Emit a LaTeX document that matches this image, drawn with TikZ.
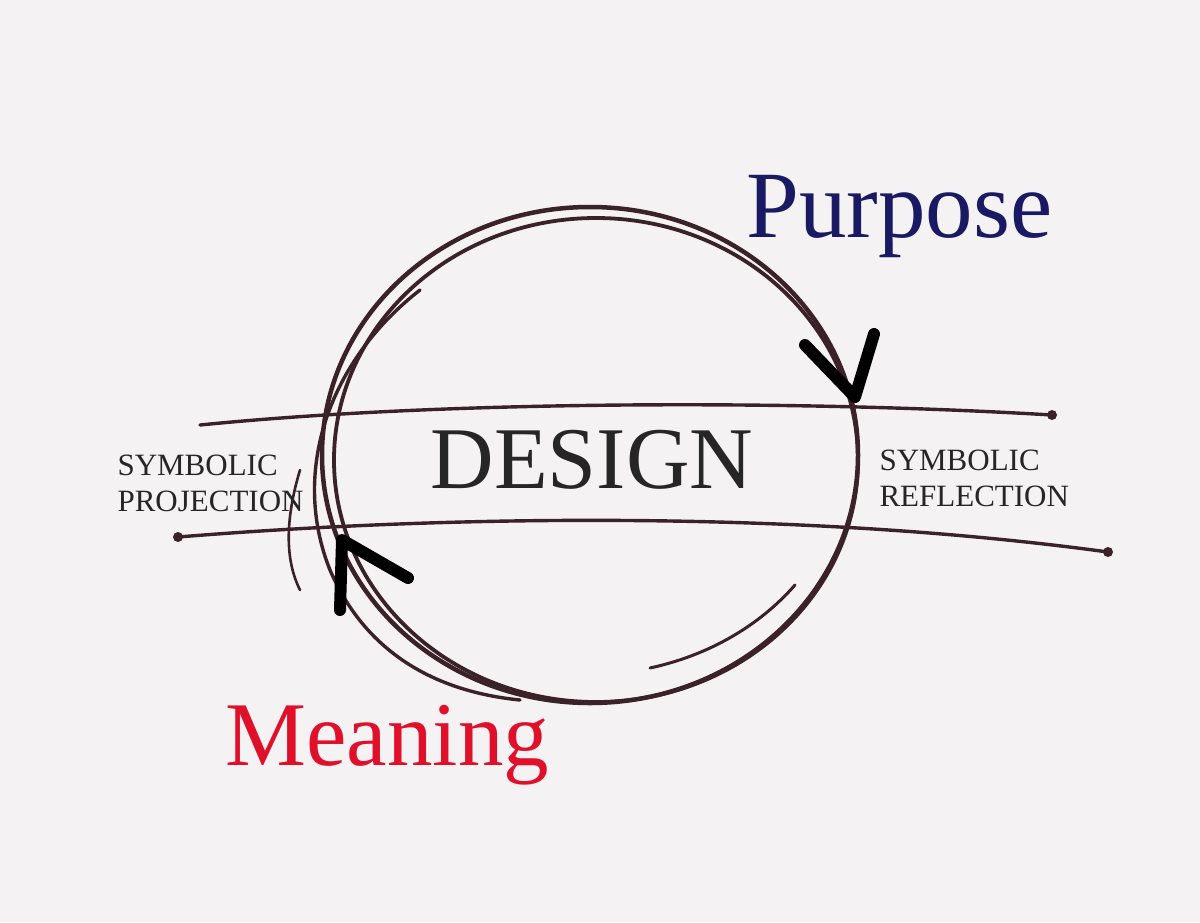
\documentclass[tikz,border=0pt]{standalone}
\usepackage{fontspec}
\setmainfont{Liberation Serif}
\begin{document}
\begin{tikzpicture}[x=1pt,y=-1pt,
  ink/.style={draw=inkc,line width=4.5pt,line cap=round},
  bar/.style={draw=inkc,line width=3.4pt,line cap=round},
  arw/.style={draw=black,line width=12pt,line cap=round,line join=round},
  small/.style={font=\fontsize{31}{36}\selectfont,align=left,anchor=west,text=black!85}]
\definecolor{inkc}{HTML}{3A2228}
\definecolor{bg}{HTML}{F4F2F2}
\fill[bg] (0,0) rectangle (1200,922);
\useasboundingbox (0,0) rectangle (1200,922);
% circle strokes
\draw[ink] (590,455) ellipse [x radius=268, y radius=248];
\draw[ink,line width=3.8pt] (596,460) ellipse [x radius=262, y radius=242];
\draw[ink,line width=3.4pt] (420,290) .. controls (330,360) and (290,470) .. (330,570) .. controls (360,640) and (420,690) .. (520,700);
\draw[ink,line width=3pt] (650,668) .. controls (710,655) and (760,625) .. (795,585);
\draw[ink,line width=2.6pt] (300,470) .. controls (285,520) and (285,560) .. (300,590);
% horizontal bars
\draw[bar] (200,425) .. controls (450,400) and (800,400) .. (1052,415);
\draw[bar] (178,537) .. controls (450,515) and (800,510) .. (1108,552);
\fill[inkc] (1052,415) circle (5); \fill[inkc] (1108,552) circle (5); \fill[inkc] (178,537) circle (5);
% arrowheads
\coordinate (tipA) at (855,397);
\draw[arw] (805,345) -- (tipA) -- (874,334);
\coordinate (tipB) at (342,540);
\draw[arw] (408,578) -- (tipB) -- (340,610);
% texts
\node[font=\fontsize{88}{92}\selectfont,text=black!85] (design) at (592,460) {DESIGN};
\node[anchor=base west,font=\fontsize{95}{99}\selectfont,text={rgb,255:red,25;green,25;blue,100}] (purpose) at (743,237) {Purpose};
\node[anchor=base west,font=\fontsize{91}{95}\selectfont,text={rgb,255:red,225;green,16;blue,42}] (meaning) at (222,765) {Meaning};
\node[small] (proj) at (114,483) {SYMBOLIC\\PROJECTION};
\node[small] (refl) at (876,478) {SYMBOLIC\\REFLECTION};
\end{tikzpicture}
\end{document}
